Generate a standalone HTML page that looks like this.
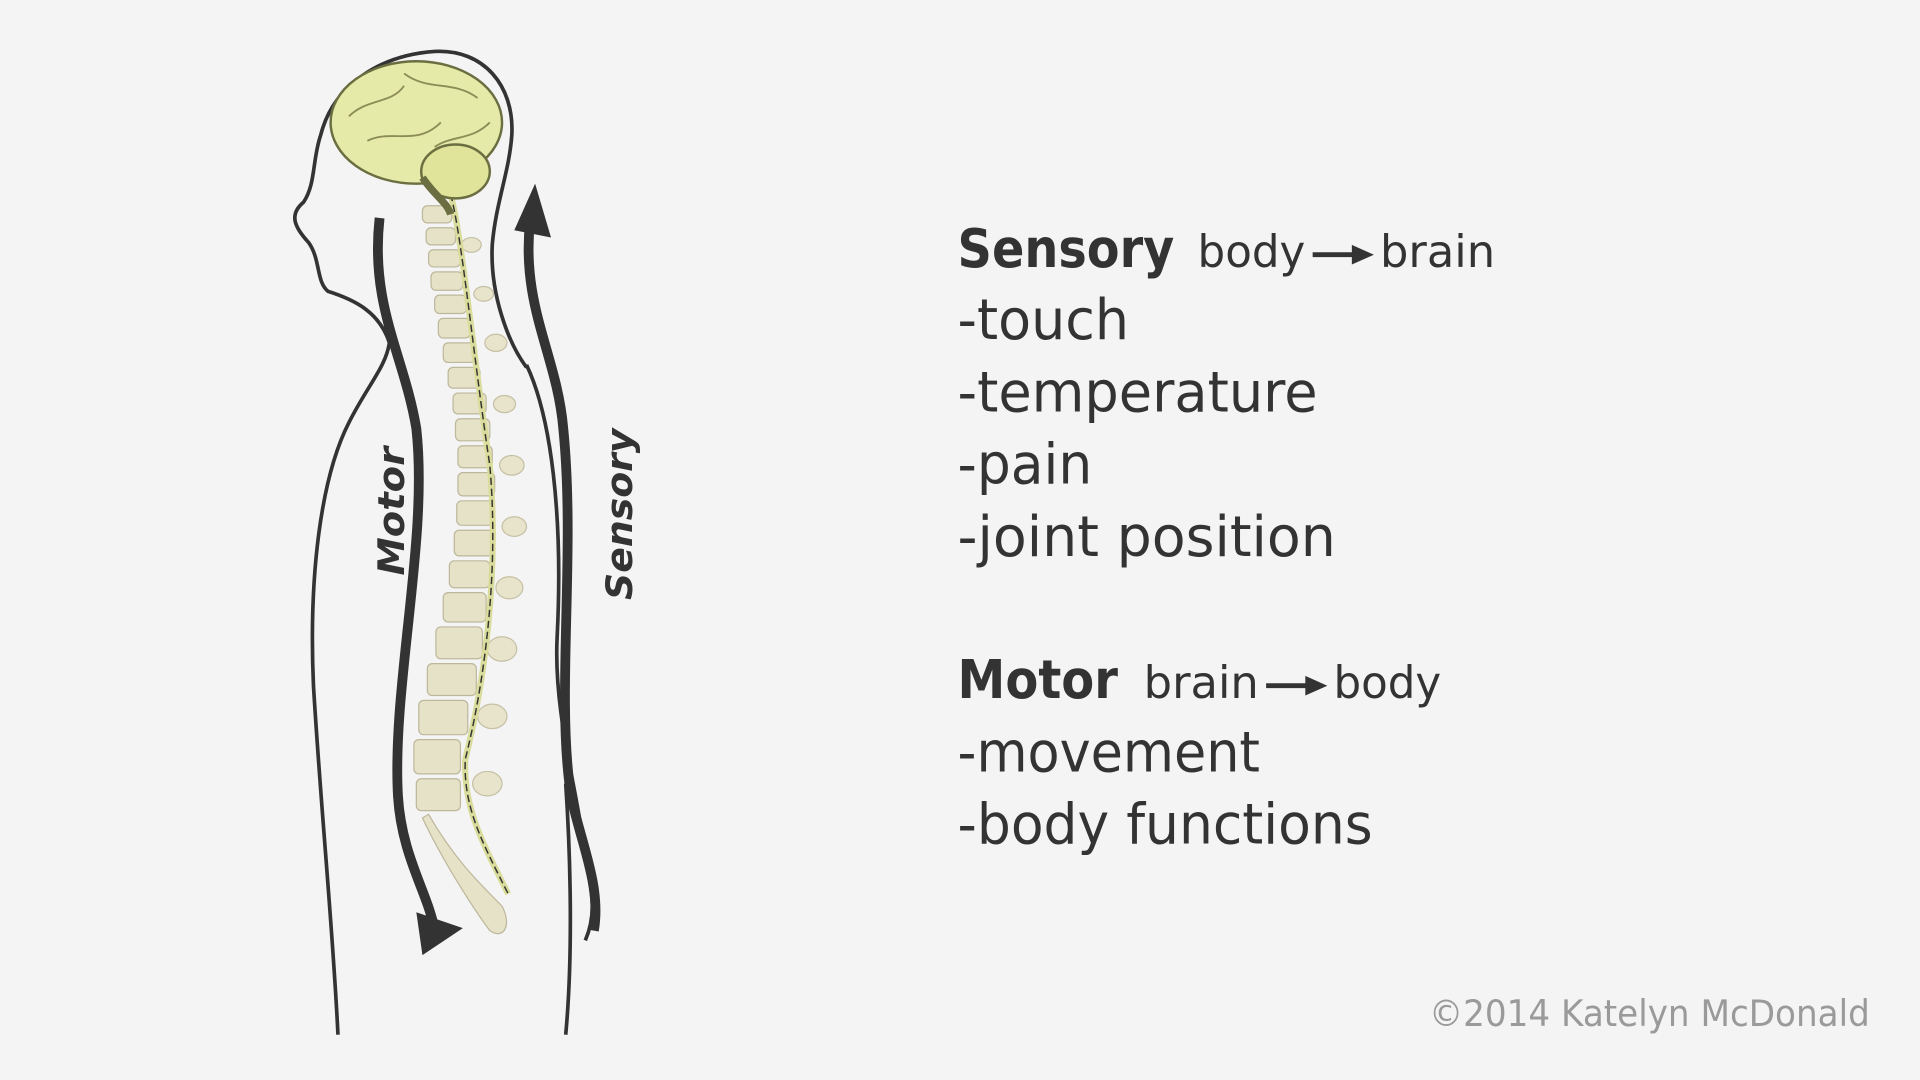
<!DOCTYPE html>
<html><head><meta charset="utf-8"><style>
html,body{margin:0;padding:0;background:#f4f4f4;}
svg{display:block}
text{font-family:"DejaVu Sans","Liberation Sans",sans-serif;fill:#333}
</style></head><body>
<svg width="1920" height="1080" viewBox="0 0 1568 882" xmlns="http://www.w3.org/2000/svg">
<rect width="1568" height="882" fill="#f4f4f4"/>
<!-- body outline -->
<path d="M276 845 C272 760 262 660 256 560 C252 470 262 390 285 345 C300 315 315 300 318 280 C310 255 290 245 268 238 C258 230 262 212 252 198 C240 185 236 175 248 165 C258 150 255 130 262 110 C272 70 310 45 355 42 C395 40 420 70 418 110 C416 140 405 165 402 200 C400 240 415 280 430 300" fill="none" stroke="#333" stroke-width="3"/>
<path d="M430 298 C450 340 460 420 455 520 C452 580 470 640 475 680 C480 720 490 740 478 768" fill="none" stroke="#333" stroke-width="3"/>
<path d="M462 845 C468 780 466 700 462 640" fill="none" stroke="#333" stroke-width="3"/>
<!-- spine vertebrae -->
<g fill="#e6e2c8" stroke="#bdb89c" stroke-width="1">
<rect x="345" y="168" width="24" height="14" rx="4"/>
<rect x="348" y="186" width="24" height="14" rx="4"/>
<rect x="350" y="204" width="26" height="14" rx="4"/>
<rect x="352" y="222" width="26" height="15" rx="4"/>
<rect x="355" y="241" width="26" height="15" rx="4"/>
<rect x="358" y="260" width="26" height="16" rx="4"/>
<rect x="362" y="280" width="26" height="16" rx="4"/>
<rect x="366" y="300" width="26" height="17" rx="4"/>
<rect x="370" y="321" width="27" height="17" rx="4"/>
<rect x="372" y="342" width="28" height="18" rx="4"/>
<rect x="374" y="364" width="28" height="18" rx="4"/>
<rect x="374" y="386" width="30" height="19" rx="4"/>
<rect x="373" y="409" width="30" height="20" rx="4"/>
<rect x="371" y="433" width="32" height="21" rx="4"/>
<rect x="367" y="458" width="33" height="22" rx="4"/>
<rect x="362" y="484" width="35" height="24" rx="4"/>
<rect x="356" y="512" width="38" height="26" rx="4"/>
<rect x="349" y="542" width="40" height="26" rx="4"/>
<rect x="342" y="572" width="40" height="28" rx="4"/>
<rect x="338" y="604" width="38" height="28" rx="4"/>
<rect x="340" y="636" width="36" height="26" rx="4"/>
<path d="M350 665 C370 700 390 720 410 740 C418 755 412 768 400 760 C385 740 360 700 345 668 Z"/>
</g>
<g fill="#e8e4cc" stroke="#c5c0a4" stroke-width="1">
<ellipse cx="385" cy="200" rx="8" ry="6"/><ellipse cx="395" cy="240" rx="8" ry="6"/><ellipse cx="405" cy="280" rx="9" ry="7"/>
<ellipse cx="412" cy="330" rx="9" ry="7"/><ellipse cx="418" cy="380" rx="10" ry="8"/><ellipse cx="420" cy="430" rx="10" ry="8"/>
<ellipse cx="416" cy="480" rx="11" ry="9"/><ellipse cx="410" cy="530" rx="12" ry="10"/><ellipse cx="402" cy="585" rx="12" ry="10"/><ellipse cx="398" cy="640" rx="12" ry="10"/>
</g>
<!-- spinal cord -->
<path d="M365 150 C375 170 385 280 400 380 C408 470 395 560 380 620 C378 660 395 690 415 730" fill="none" stroke="#d9dc9a" stroke-width="5"/>
<path d="M365 150 C375 170 385 280 400 380 C408 470 395 560 380 620 C378 660 395 690 415 730" fill="none" stroke="#333" stroke-width="1.2" stroke-dasharray="6 3"/>
<!-- brain -->
<ellipse cx="340" cy="100" rx="70" ry="50" fill="#e6eaa8" stroke="#6b6e40" stroke-width="2"/>
<path d="M285 95 C300 80 320 85 330 70 M300 115 C320 105 340 120 360 100 M330 60 C350 75 370 65 390 80 M355 120 C370 110 385 115 400 100" fill="none" stroke="#8a8d55" stroke-width="1.5"/>
<ellipse cx="372" cy="140" rx="28" ry="22" fill="#dfe49a" stroke="#6b6e40" stroke-width="2"/>
<path d="M345 145 C355 160 365 165 368 175" fill="none" stroke="#6b6e40" stroke-width="6"/>
<!-- motor arrow -->
<path d="M310 178 C302 250 330 290 340 350 C350 440 320 560 325 650 C328 700 350 730 355 760" fill="none" stroke="#333" stroke-width="8"/>
<polygon points="340,745 378,758 345,780" fill="#333"/>
<!-- sensory arrow -->
<path d="M485 760 C492 720 470 680 465 640 C455 560 470 450 460 350 C455 290 425 250 433 180" fill="none" stroke="#333" stroke-width="8"/>
<polygon points="420,188 437,150 450,194" fill="#333"/>
<text transform="translate(330 470) rotate(-90)" font-size="30" font-weight="bold" font-style="italic" textLength="105" lengthAdjust="spacingAndGlyphs">Motor</text>
<text transform="translate(516 490) rotate(-90)" font-size="30" font-weight="bold" font-style="italic" textLength="140" lengthAdjust="spacingAndGlyphs">Sensory</text>
<!-- text -->
<text x="782" y="218" font-size="44" font-weight="bold" textLength="177" lengthAdjust="spacingAndGlyphs">Sensory</text>
<text x="978" y="218" font-size="36" textLength="88" lengthAdjust="spacingAndGlyphs">body</text>
<line x1="1072" y1="208" x2="1108" y2="208" stroke="#333" stroke-width="4"/><polygon points="1104,200 1122,208 1104,216" fill="#333"/>
<text x="1127" y="218" font-size="36" textLength="94" lengthAdjust="spacingAndGlyphs">brain</text>
<text x="782" y="277" font-size="46" textLength="140" lengthAdjust="spacingAndGlyphs">-touch</text>
<text x="782" y="336" font-size="46" textLength="294" lengthAdjust="spacingAndGlyphs">-temperature</text>
<text x="782" y="395" font-size="46" textLength="110" lengthAdjust="spacingAndGlyphs">-pain</text>
<text x="782" y="454" font-size="46" textLength="309" lengthAdjust="spacingAndGlyphs">-joint position</text>
<text x="782" y="570" font-size="44" font-weight="bold" textLength="131" lengthAdjust="spacingAndGlyphs">Motor</text>
<text x="934" y="570" font-size="36" textLength="94" lengthAdjust="spacingAndGlyphs">brain</text>
<line x1="1034" y1="560" x2="1070" y2="560" stroke="#333" stroke-width="4"/><polygon points="1066,552 1084,560 1066,568" fill="#333"/>
<text x="1089" y="570" font-size="36" textLength="88" lengthAdjust="spacingAndGlyphs">body</text>
<text x="782" y="630" font-size="46" textLength="247" lengthAdjust="spacingAndGlyphs">-movement</text>
<text x="782" y="689" font-size="46" textLength="339" lengthAdjust="spacingAndGlyphs">-body functions</text>
<text x="1167" y="838" font-size="30" style="fill:#9a9a9a" textLength="360" lengthAdjust="spacingAndGlyphs">©2014 Katelyn McDonald</text>
</svg>
</body></html>
